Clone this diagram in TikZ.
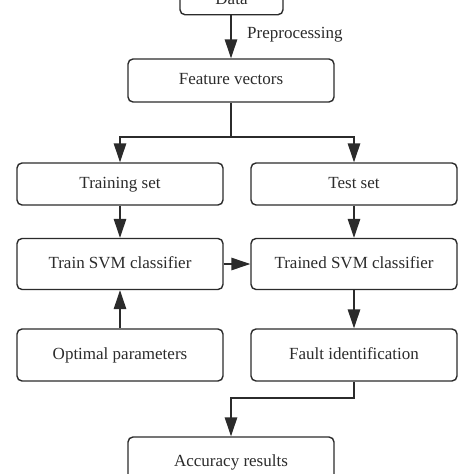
\documentclass[tikz,border=0pt]{standalone}
\usepackage{fontspec}
\setmainfont{Liberation Serif}
\usetikzlibrary{arrows.meta}
\definecolor{ink}{HTML}{2B2B2B}
\begin{document}
\begin{tikzpicture}[x=1pt,y=-1pt,
  box/.style={draw=ink,line width=1.4pt,rounded corners=5pt,minimum width=206pt,inner sep=0pt,text height=11.5pt,text depth=3.5pt,font=\fontsize{17}{20}\selectfont,text=ink},
  conn/.style={draw=ink,line width=1.4pt,-{Triangle[length=19pt,width=12.5pt]}},
  plain/.style={draw=ink,line width=1.4pt}]
\useasboundingbox (0,0) rectangle (474,474);
\node[box,minimum width=103pt,minimum height=28pt] (data) at (231.5,0.7) {Data};
\node[box,minimum height=43pt] (fv) at (231,80.5) {Feature vectors};
\node[box,minimum height=42pt] (train) at (120,184) {Training set};
\node[box,minimum height=42pt] (test) at (354,184) {Test set};
\node[box,minimum height=51pt] (tsvm) at (120,264) {Train SVM classifier};
\node[box,minimum height=51pt] (tdsvm) at (354,264) {Trained SVM classifier};
\node[box,minimum height=52pt] (opt) at (120,355) {Optimal parameters};
\node[box,minimum height=52pt] (fault) at (354,355) {Fault identification};
\node[box,minimum height=51pt] (acc) at (231,462.5) {Accuracy results};
\node[anchor=west,inner sep=0pt,text height=11.5pt,text depth=3.5pt,font=\fontsize{17}{20}\selectfont,text=ink] (pre) at (247,34) {Preprocessing};
\coordinate (split) at (231,137);
\coordinate (merge) at (354,398);
\draw[conn] (data.south -| fv.north) -- (fv.north);
\draw[plain] (fv.south) -- (split);
\draw[conn] (split) -| (train.north);
\draw[conn] (split) -| (test.north);
\draw[conn] (train) -- (tsvm);
\draw[conn] (test) -- (tdsvm);
\draw[conn] (tsvm) -- (tdsvm);
\draw[conn] (opt) -- (tsvm);
\draw[conn] (tdsvm) -- (fault);
\draw[conn] (fault.south) -- (merge) -| (acc.north);
\end{tikzpicture}
\end{document}
